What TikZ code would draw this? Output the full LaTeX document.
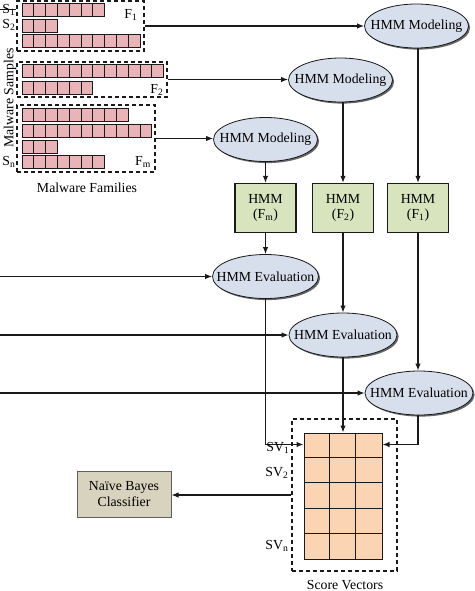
\documentclass[tikz,border=0pt]{standalone}
\usepackage{fontspec}
\setmainfont{Liberation Serif}
\usetikzlibrary{shapes.geometric,arrows.meta,shadows}
\definecolor{cellpink}{HTML}{E8B4B8}
\definecolor{ellblue}{HTML}{D8DFEC}
\definecolor{hmmgreen}{HTML}{D7E4BD}
\definecolor{nbtan}{HTML}{D8D3BE}
\definecolor{gridpeach}{HTML}{FBD4B4}
\definecolor{ink}{HTML}{1A1A1A}
\newcommand\samplerow[2]{%
  \foreach \i in {1,...,#2}{\draw[samplecell] ({22+(\i-1)*11.8},#1) rectangle ++(11.8,13);}}
\begin{document}
\begin{tikzpicture}[x=1pt,y=-1pt,
  font=\fontsize{13.8}{15.5}\selectfont,
  line width=1.2pt, draw=ink,
  >={Latex[length=7pt,width=5.5pt]},
  samplecell/.style={fill=cellpink, draw=ink, line width=0.8pt},
  famdash/.style={rectangle, draw=ink, dash pattern=on 4pt off 3pt, line width=1.5pt, inner sep=0pt},
  ell/.style={ellipse, draw=ink, line width=0.8pt, fill=ellblue, inner sep=0pt,
    minimum width=104pt, minimum height=44pt,
    label={[inner sep=0pt]center:#1},
    drop shadow={shadow xshift=1.6pt, shadow yshift=-1.6pt, fill=black!60, opacity=1}},
  hmmbox/.style={rectangle, draw=ink, line width=1.3pt, fill=hmmgreen, minimum width=61pt,
    minimum height=49pt, inner sep=0pt, align=center},
  nbbox/.style={rectangle, draw=ink!70, line width=1pt, fill=nbtan, minimum width=94pt,
    minimum height=46pt, inner sep=0pt, align=center},
  lbl/.style={inner sep=0pt}
]
\useasboundingbox (0,0) rectangle (474,591);

% sample rows
\samplerow{3}{7}
\samplerow{19}{3}
\samplerow{34}{10}
\samplerow{64}{12}
\samplerow{81}{6}
\samplerow{108}{9}
\samplerow{124}{11}
\samplerow{140}{3}
\samplerow{155}{7}

% family boxes
\node[famdash, minimum width=127pt, minimum height=50pt] (F1) at (80.5,26) {};
\node[famdash, minimum width=150pt, minimum height=35pt] (F2) at (92,79.5) {};
\node[famdash, minimum width=138pt, minimum height=67pt] (Fm) at (86,138.5) {};
\node[lbl] (lF1) at (131,15) {F\textsubscript{1}};
\node[lbl] (lF2) at (157,90) {F\textsubscript{2}};
\node[lbl] (lFm) at (143,162) {F\textsubscript{m}};

\node[lbl] (S1) at (9,10) {S\textsubscript{1}};
\node[lbl] (S2) at (9,25) {S\textsubscript{2}};
\node[lbl] (Sn) at (9,162) {S\textsubscript{n}};
\node[lbl, rotate=90] (MS) at (10,98) {Malware Samples};
\coordinate (s1a) at (0,10);
\draw[line width=1pt] (s1a) -- (S1.east);
\node[lbl] (MF) at (87,188) {Malware Families};

% modeling
\node[ell={HMM Modeling}] (M1) at (416.5,26) {};
\node[ell={HMM Modeling}] (M2) at (340.5,80) {};
\node[ell={HMM Modeling}] (M3) at (265.5,139.5) {};

\draw[->] (F1.east) -- (M1.west);
\draw[->] (F2.east) -- (F2.east -| M2.west);
\draw[->] (Fm.east) -- (Fm.east -| M3.west);

% HMM boxes
\node[hmmbox] (Hm) at (265.5,208) {HMM\\(F\textsubscript{m})};
\node[hmmbox] (H2) at (343,208) {HMM\\(F\textsubscript{2})};
\node[hmmbox] (H1) at (418,208) {HMM\\(F\textsubscript{1})};

\draw[->] (M3.south) -- (Hm.north);
\draw[->] (H2.north |- M2.south) -- (H2.north);
\draw[->] (H1.north |- M1.south) -- (H1.north);

% evaluation
\node[ell={HMM Evaluation}, minimum width=106pt] (E1) at (265.5,276.5) {};
\node[ell={HMM Evaluation}, minimum width=108pt] (E2) at (343,335) {};
\node[ell={HMM Evaluation}, minimum width=108pt] (E3) at (419,393) {};

\draw[->] (Hm.south) -- (E1.north);
\draw[->] (H2.south) -- (E2.north);
\draw[->] (H1.south) -- (H1.south |- E3.north);

\coordinate (in1) at (0,276.5);
\coordinate (in2) at (0,335);
\coordinate (in3) at (0,393);
\draw[->] (in1) -- (E1.west);
\draw[->] (in2) -- (E2.west);
\draw[->] (in3) -- (E3.west);

% score vectors
\node[famdash, minimum width=105pt, minimum height=152pt] (SV) at (344.5,495) {};
\node[rectangle, draw=ink, line width=1pt, fill=gridpeach, minimum width=78pt, minimum height=126pt, inner sep=0pt] (G) at (343,496) {};
\foreach \c in {1,2} \draw[line width=1pt] ([xshift=\c*26pt]G.north west) -- ([xshift=\c*26pt]G.south west);
\foreach \r in {1,2,3,4} \draw[line width=1pt] ([yshift=-\r*25.2pt]G.north west) -- ([yshift=-\r*25.2pt]G.north east);

\draw[->] (E1.south) |- ([yshift=-12pt]G.north west);
\draw[->] (E2.south) -- (G.north);
\draw[->] (H1.south |- E3.south) |- ([yshift=-12pt]G.north east);

\node[lbl, anchor=east] (sv1) at (290,448) {SV\textsubscript{1}};
\node[lbl, anchor=east] (sv2) at (289,473) {SV\textsubscript{2}};
\node[lbl, anchor=east] (svn) at (289,546) {SV\textsubscript{n}};
\node[lbl] (SVt) at (345,585) {Score Vectors};

\node[nbbox] (NB) at (124,494) {Naïve Bayes\\Classifier};
\draw[->] (SV.west) -- (SV.west -| NB.east);
\end{tikzpicture}
\end{document}
